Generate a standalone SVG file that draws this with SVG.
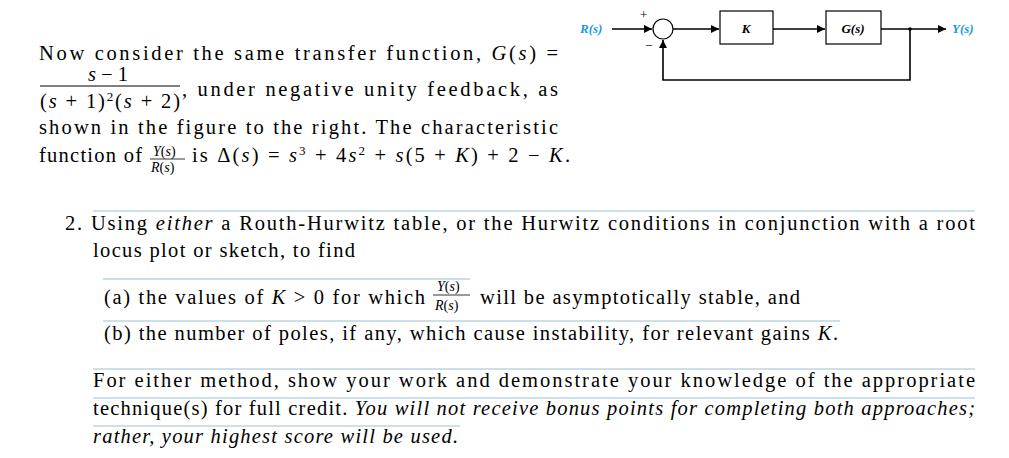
<svg xmlns="http://www.w3.org/2000/svg" width="1009" height="458" viewBox="0 0 1009 458">
<defs>
<marker id="ar" viewBox="0 0 10 10" refX="10" refY="5" markerWidth="8" markerHeight="8" markerUnits="userSpaceOnUse" orient="auto"><path d="M0,0 L10,5 L0,10 z" fill="#000"/></marker>
<style>
.t{font-family:"Liberation Serif",serif;font-size:20.5px;fill:#000}
.i{font-style:italic}
.f{font-family:"Liberation Serif",serif;font-size:14px;fill:#000}
.s{font-family:"Liberation Serif",serif;font-size:13px;fill:#000}
.b{font-family:"Liberation Serif",serif;font-size:13px;font-style:italic;font-weight:bold}
.bl{fill:#1a9bd7}
.rule{stroke:#9cc2d6;stroke-width:1.2}
.w{stroke:#000;stroke-width:1.6;fill:none}
</style>
</defs>
<rect width="1009" height="458" fill="#fff"/>
<g id="lines">
<line class="rule" x1="93" y1="211" x2="975" y2="211"/>
<line class="rule" x1="103" y1="279" x2="470" y2="279"/>
<line class="rule" x1="103" y1="321" x2="840" y2="321"/>
<line class="rule" x1="93" y1="369" x2="975" y2="369"/>
<line class="rule" x1="93" y1="398" x2="975" y2="398"/>
<line class="rule" x1="93" y1="426" x2="460" y2="426"/>
</g>
<g id="R"><text class="b bl" x="580" y="33">R(s)</text></g>
<g id="sum"><circle cx="663" cy="29" r="10" fill="#fff" stroke="#000" stroke-width="1.2"/><text class="s" x="640" y="19">+</text><text class="s" x="645" y="50">−</text></g>
<g id="K"><rect x="720" y="11" width="53" height="33" fill="#fff" stroke="#000" stroke-width="1.2"/><text class="b" x="746" y="33" text-anchor="middle">K</text></g>
<g id="G"><rect x="826" y="11" width="55" height="33" fill="#fff" stroke="#000" stroke-width="1.2"/><text class="b" x="853" y="33" text-anchor="middle">G(s)</text></g>
<g id="Y"><text class="b bl" x="952" y="33">Y(s)</text></g>
<g id="connectors">
<line class="w" x1="612" y1="29" x2="652" y2="29" marker-end="url(#ar)"/>
<line class="w" x1="673" y1="29" x2="719" y2="29" marker-end="url(#ar)"/>
<line class="w" x1="773" y1="29" x2="825" y2="29" marker-end="url(#ar)"/>
<line class="w" x1="881" y1="29" x2="946" y2="29" marker-end="url(#ar)"/>
<polyline class="w" points="910,29 910,80 663,80 663,40" marker-end="url(#ar)"/>
<circle cx="910" cy="29" r="1.8"/>
</g>
<g id="text">
<text class="t" x="39" y="60" textLength="519" lengthAdjust="spacing">Now consider the same transfer function, <tspan class="i">G</tspan>(<tspan class="i">s</tspan>)    =</text>
<text class="t" x="88" y="81"><tspan class="i">s</tspan> − 1</text>
<line x1="40" y1="86" x2="180" y2="86" stroke="#000" stroke-width="1"/>
<text class="t" x="40" y="108" textLength="140" lengthAdjust="spacing">(<tspan class="i">s</tspan> + 1)<tspan font-size="13" dy="-7">2</tspan><tspan dy="7">(</tspan><tspan class="i">s</tspan> + 2)</text>
<text class="t" x="182" y="96" textLength="376" lengthAdjust="spacing">,   under negative unity feedback, as</text>
<text class="t" x="39" y="134" textLength="519" lengthAdjust="spacing">shown in the figure to the right.  The characteristic</text>
<text class="t" x="39" y="162" textLength="103" lengthAdjust="spacing">function of</text>
<text class="f" x="153" y="156"><tspan class="i">Y</tspan>(<tspan class="i">s</tspan>)</text>
<line x1="150" y1="159" x2="185" y2="159" stroke="#000" stroke-width="0.8"/>
<text class="f" x="151" y="172"><tspan class="i">R</tspan>(<tspan class="i">s</tspan>)</text>
<text class="t" x="192" y="162" textLength="378" lengthAdjust="spacing">is Δ(<tspan class="i">s</tspan>) = <tspan class="i">s</tspan><tspan font-size="13" dy="-7">3</tspan><tspan dy="7"> + 4</tspan><tspan class="i">s</tspan><tspan font-size="13" dy="-7">2</tspan><tspan dy="7"> + </tspan><tspan class="i">s</tspan>(5 + <tspan class="i">K</tspan>) + 2 − <tspan class="i">K</tspan>.</text>
<text class="t" x="65" y="230" textLength="910" lengthAdjust="spacing">2. Using <tspan class="i">either</tspan> a Routh-Hurwitz table, or the Hurwitz conditions in conjunction with a root</text>
<text class="t" x="93" y="257" textLength="262" lengthAdjust="spacing">locus plot or sketch, to find</text>
<text class="t" x="104" y="304" textLength="321" lengthAdjust="spacing">(a) the values of <tspan class="i">K</tspan> &gt; 0 for which</text>
<text class="f" x="437" y="291"><tspan class="i">Y</tspan>(<tspan class="i">s</tspan>)</text>
<line x1="433" y1="295" x2="470" y2="295" stroke="#000" stroke-width="0.8"/>
<text class="f" x="435" y="310"><tspan class="i">R</tspan>(<tspan class="i">s</tspan>)</text>
<text class="t" x="480" y="304" textLength="320" lengthAdjust="spacing">will be asymptotically stable, and</text>
<text class="t" x="104" y="340" textLength="734" lengthAdjust="spacing">(b) the number of poles, if any, which cause instability, for relevant gains <tspan class="i">K</tspan>.</text>
<text class="t" x="93" y="387" textLength="882" lengthAdjust="spacing">For either method, show your work and demonstrate your knowledge of the appropriate</text>
<text class="t" x="93" y="415" textLength="882" lengthAdjust="spacing">technique(s) for full credit. <tspan class="i">You will not receive bonus points for completing both approaches;</tspan></text>
<text class="t i" x="93" y="443" textLength="365" lengthAdjust="spacing">rather, your highest score will be used.</text>
</g>
</svg>
